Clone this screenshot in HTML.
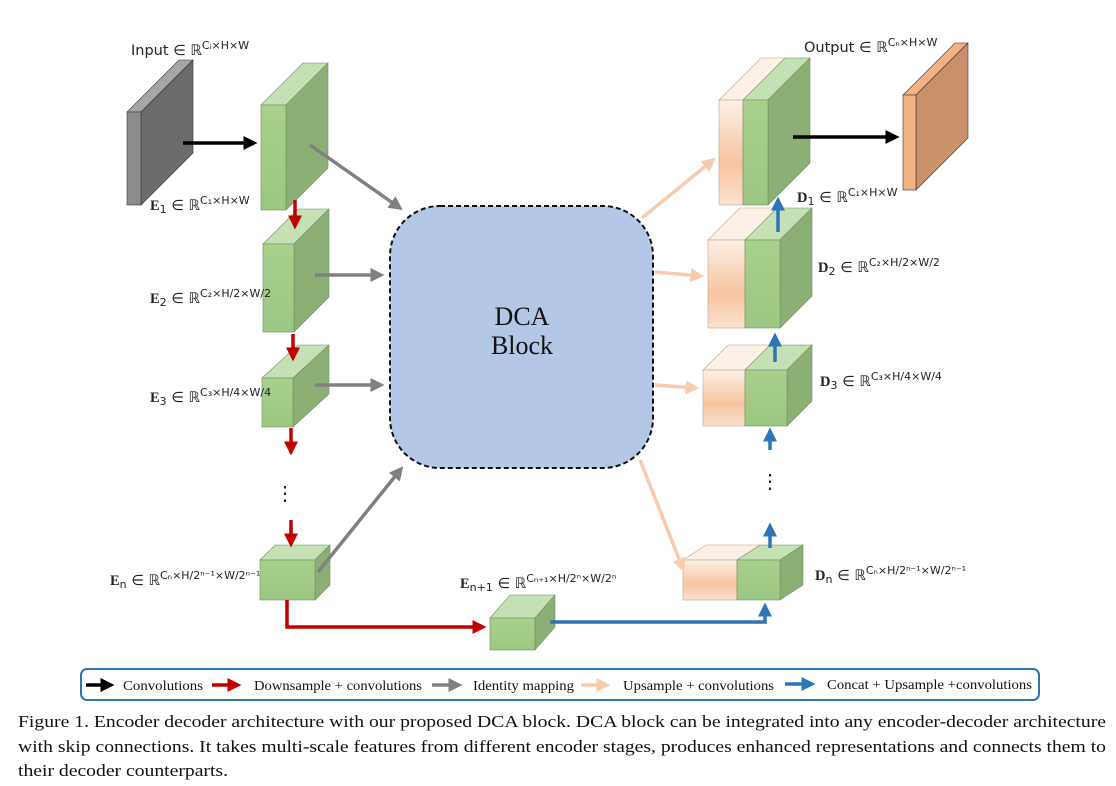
<!DOCTYPE html>
<html><head><meta charset="utf-8"><style>
html,body{margin:0;padding:0;background:#fff;}
svg{display:block;}
text{font-family:"Liberation Serif",serif;}
.m{font-family:"DejaVu Sans","Liberation Sans",sans-serif;font-size:14.5px;fill:#222;}
.s{font-size:11px;}
</style></head><body>
<svg width="1116" height="786" viewBox="0 0 1116 786" xmlns="http://www.w3.org/2000/svg">
<defs>
<linearGradient id="gf" x1="0" y1="0" x2="0" y2="1"><stop offset="0" stop-color="#a8d08d"/><stop offset="1" stop-color="#9cc782"/></linearGradient>
<linearGradient id="pf" x1="0" y1="0" x2="0" y2="1"><stop offset="0" stop-color="#fdf0e6"/><stop offset="0.6" stop-color="#f6c4a0"/><stop offset="1" stop-color="#fbe1cf"/></linearGradient>
<marker id="ak" markerWidth="4" markerHeight="4" refX="3" refY="2" orient="auto"><path d="M0,0L4,2L0,4z" fill="#000"/></marker>
<marker id="ar" markerWidth="4" markerHeight="4" refX="3" refY="2" orient="auto"><path d="M0,0L4,2L0,4z" fill="#c00000"/></marker>
<marker id="ag" markerWidth="4" markerHeight="4" refX="3" refY="2" orient="auto"><path d="M0,0L4,2L0,4z" fill="#808080"/></marker>
<marker id="ap" markerWidth="4" markerHeight="4" refX="3" refY="2" orient="auto"><path d="M0,0L4,2L0,4z" fill="#f8cbad"/></marker>
<marker id="ab" markerWidth="4" markerHeight="4" refX="3" refY="2" orient="auto"><path d="M0,0L4,2L0,4z" fill="#2e75b6"/></marker>
</defs>
<g stroke="#6f8f5a" stroke-width="0.6">
<polygon points="127,112 141,112 193,60 179,60" fill="#a6a6a6" stroke="#333"/>
<polygon points="141,112 193,60 193,153 141,205" fill="#6b6b6b" stroke="#333"/>
<rect x="127" y="112" width="14" height="93" fill="#8c8c8c" stroke="#333"/>
<polygon points="903,95 916,95 968,43 955,43" fill="#f4b183" stroke="#333"/>
<polygon points="916,95 968,43 968,138 916,190" fill="#c9916a" stroke="#333"/>
<rect x="903" y="95" width="13" height="95" fill="#f4b183" stroke="#333"/>
<polygon points="261,105 286,105 328,63 303,63" fill="#c5e0b4"/>
<polygon points="286,105 328,63 328,168 286,210" fill="#8caf76"/>
<rect x="261" y="105" width="25" height="105" fill="url(#gf)"/>
<polygon points="263,244 294,244 329,209 298,209" fill="#c5e0b4"/>
<polygon points="294,244 329,209 329,297 294,332" fill="#8caf76"/>
<rect x="263" y="244" width="31" height="88" fill="url(#gf)"/>
<polygon points="262,378 293,378 329,345 298,345" fill="#c5e0b4"/>
<polygon points="293,378 329,345 329,394 293,427" fill="#8caf76"/>
<rect x="262" y="378" width="31" height="49" fill="url(#gf)"/>
<polygon points="260,560 315,560 330,545 275,545" fill="#c5e0b4"/>
<polygon points="315,560 330,545 330,585 315,600" fill="#8caf76"/>
<rect x="260" y="560" width="55" height="40" fill="url(#gf)"/>
<polygon points="490,618 535,618 555,595 510,595" fill="#c5e0b4"/>
<polygon points="535,618 555,595 555,627 535,650" fill="#8caf76"/>
<rect x="490" y="618" width="45" height="32" fill="url(#gf)"/>
<polygon points="719,100 743,100 785,58 761,58" fill="#fdf0e6" stroke="#b9a58f"/>
<polygon points="743,100 768,100 810,58 785,58" fill="#c5e0b4"/>
<polygon points="768,100 810,58 810,163 768,205" fill="#8caf76"/>
<rect x="719" y="100" width="24" height="105" fill="url(#pf)" stroke="#b9a58f"/>
<rect x="743" y="100" width="25" height="105" fill="url(#gf)"/>
<polygon points="708,240 745,240 777,208 740,208" fill="#fdf0e6" stroke="#b9a58f"/>
<polygon points="745,240 780,240 812,208 777,208" fill="#c5e0b4"/>
<polygon points="780,240 812,208 812,296 780,328" fill="#8caf76"/>
<rect x="708" y="240" width="37" height="88" fill="url(#pf)" stroke="#b9a58f"/>
<rect x="745" y="240" width="35" height="88" fill="url(#gf)"/>
<polygon points="703,370 745,370 770,345 728,345" fill="#fdf0e6" stroke="#b9a58f"/>
<polygon points="745,370 787,370 812,345 770,345" fill="#c5e0b4"/>
<polygon points="787,370 812,345 812,401 787,426" fill="#8caf76"/>
<rect x="703" y="370" width="42" height="56" fill="url(#pf)" stroke="#b9a58f"/>
<rect x="745" y="370" width="42" height="56" fill="url(#gf)"/>
<polygon points="683,560 737,560 760,545 706,545" fill="#fdf0e6" stroke="#b9a58f"/>
<polygon points="737,560 780,560 803,545 760,545" fill="#c5e0b4"/>
<polygon points="780,560 803,545 803,585 780,600" fill="#8caf76"/>
<rect x="683" y="560" width="54" height="40" fill="url(#pf)" stroke="#b9a58f"/>
<rect x="737" y="560" width="43" height="40" fill="url(#gf)"/>
</g>
<rect x="390" y="206" width="263" height="262" rx="50" fill="#b4c7e7" stroke="#111" stroke-width="2" stroke-dasharray="5,3"/>
<text x="522" y="325" font-size="26" text-anchor="middle" fill="#111">DCA</text>
<text x="522" y="354" font-size="26" text-anchor="middle" fill="#111">Block</text>
<g fill="none" stroke-width="3.5">
<line x1="183" y1="143" x2="254" y2="143" stroke="#000" marker-end="url(#ak)"/>
<line x1="793" y1="137" x2="896" y2="137" stroke="#000" marker-end="url(#ak)"/>
<line x1="310" y1="145" x2="400" y2="208" stroke="#808080" marker-end="url(#ag)"/>
<line x1="315" y1="275" x2="381" y2="275" stroke="#808080" marker-end="url(#ag)"/>
<line x1="315" y1="385" x2="381" y2="385" stroke="#808080" marker-end="url(#ag)"/>
<line x1="318" y1="572" x2="401" y2="469" stroke="#808080" marker-end="url(#ag)"/>
<line x1="295" y1="200" x2="295" y2="226" stroke="#c00000" marker-end="url(#ar)"/>
<line x1="293" y1="334" x2="293" y2="358" stroke="#c00000" marker-end="url(#ar)"/>
<line x1="291" y1="428" x2="291" y2="452" stroke="#c00000" marker-end="url(#ar)"/>
<line x1="291" y1="520" x2="291" y2="544" stroke="#c00000" marker-end="url(#ar)"/>
<polyline points="287,600 287,627 483,627" stroke="#c00000" marker-end="url(#ar)"/>
<polyline points="550,622 765,622 765,606" stroke="#2e75b6" marker-end="url(#ab)"/>
<line x1="770" y1="548" x2="770" y2="526" stroke="#2e75b6" marker-end="url(#ab)"/>
<line x1="770" y1="450" x2="770" y2="431" stroke="#2e75b6" marker-end="url(#ab)"/>
<line x1="775" y1="362" x2="775" y2="336" stroke="#2e75b6" marker-end="url(#ab)"/>
<line x1="778" y1="232" x2="778" y2="200" stroke="#2e75b6" marker-end="url(#ab)"/>
<line x1="642" y1="218" x2="713" y2="160" stroke="#f8cbad" marker-end="url(#ap)"/>
<line x1="655" y1="272" x2="701" y2="276" stroke="#f8cbad" marker-end="url(#ap)"/>
<line x1="655" y1="385" x2="696" y2="388" stroke="#f8cbad" marker-end="url(#ap)"/>
<line x1="640" y1="460" x2="683" y2="569" stroke="#f8cbad" marker-end="url(#ap)"/>
</g>
<text x="285" y="500" font-size="20" fill="#222" text-anchor="middle">⋮</text>
<text x="770" y="488" font-size="20" fill="#222" text-anchor="middle">⋮</text>
<text class="m" x="131" y="55">Input ∈ ℝ<tspan class="s" dy="-6">Cᵢ×H×W</tspan></text>
<text class="m" x="150" y="210"><tspan font-weight="bold" font-family="Liberation Serif">E</tspan><tspan class="s" dy="3">1</tspan><tspan dy="-3"> ∈ ℝ</tspan><tspan class="s" dy="-6">C₁×H×W</tspan></text>
<text class="m" x="150" y="303"><tspan font-weight="bold" font-family="Liberation Serif">E</tspan><tspan class="s" dy="3">2</tspan><tspan dy="-3"> ∈ ℝ</tspan><tspan class="s" dy="-6">C₂×H/2×W/2</tspan></text>
<text class="m" x="150" y="402"><tspan font-weight="bold" font-family="Liberation Serif">E</tspan><tspan class="s" dy="3">3</tspan><tspan dy="-3"> ∈ ℝ</tspan><tspan class="s" dy="-6">C₃×H/4×W/4</tspan></text>
<text class="m" x="110" y="585"><tspan font-weight="bold" font-family="Liberation Serif">E</tspan><tspan class="s" dy="3">n</tspan><tspan dy="-3"> ∈ ℝ</tspan><tspan class="s" dy="-6">Cₙ×H/2ⁿ⁻¹×W/2ⁿ⁻¹</tspan></text>
<text class="m" x="460" y="588"><tspan font-weight="bold" font-family="Liberation Serif">E</tspan><tspan class="s" dy="3">n+1</tspan><tspan dy="-3"> ∈ ℝ</tspan><tspan class="s" dy="-6">Cₙ₊₁×H/2ⁿ×W/2ⁿ</tspan></text>
<text class="m" x="804" y="52">Output ∈ ℝ<tspan class="s" dy="-6">Cₙ×H×W</tspan></text>
<text class="m" x="797" y="202"><tspan font-weight="bold" font-family="Liberation Serif">D</tspan><tspan class="s" dy="3">1</tspan><tspan dy="-3"> ∈ ℝ</tspan><tspan class="s" dy="-6">C₁×H×W</tspan></text>
<text class="m" x="818" y="272"><tspan font-weight="bold" font-family="Liberation Serif">D</tspan><tspan class="s" dy="3">2</tspan><tspan dy="-3"> ∈ ℝ</tspan><tspan class="s" dy="-6">C₂×H/2×W/2</tspan></text>
<text class="m" x="820" y="386"><tspan font-weight="bold" font-family="Liberation Serif">D</tspan><tspan class="s" dy="3">3</tspan><tspan dy="-3"> ∈ ℝ</tspan><tspan class="s" dy="-6">C₃×H/4×W/4</tspan></text>
<text class="m" x="815" y="580"><tspan font-weight="bold" font-family="Liberation Serif">D</tspan><tspan class="s" dy="3">n</tspan><tspan dy="-3"> ∈ ℝ</tspan><tspan class="s" dy="-6">Cₙ×H/2ⁿ⁻¹×W/2ⁿ⁻¹</tspan></text>
<rect x="81" y="669" width="958" height="31" rx="6" fill="#fff" stroke="#2e75b6" stroke-width="2"/>
<g stroke-width="3.5">
<line x1="86" y1="685" x2="111" y2="685" stroke="#000" marker-end="url(#ak)"/>
<line x1="212" y1="685" x2="238" y2="685" stroke="#c00000" marker-end="url(#ar)"/>
<line x1="432" y1="685" x2="459" y2="685" stroke="#808080" marker-end="url(#ag)"/>
<line x1="581" y1="685" x2="607" y2="685" stroke="#f8cbad" marker-end="url(#ap)"/>
<line x1="785" y1="684" x2="812" y2="684" stroke="#2e75b6" marker-end="url(#ab)"/>
</g>
<g font-size="14" fill="#111">
<text x="123" y="690" textLength="80" lengthAdjust="spacingAndGlyphs">Convolutions</text>
<text x="254" y="690" textLength="168" lengthAdjust="spacingAndGlyphs">Downsample + convolutions</text>
<text x="473" y="690" textLength="101" lengthAdjust="spacingAndGlyphs">Identity mapping</text>
<text x="623" y="690" textLength="151" lengthAdjust="spacingAndGlyphs">Upsample + convolutions</text>
<text x="827" y="689" textLength="205" lengthAdjust="spacingAndGlyphs">Concat + Upsample +convolutions</text>
</g>
<g font-size="17" fill="#111">
<text x="18" y="727" textLength="1088" lengthAdjust="spacingAndGlyphs">Figure 1. Encoder decoder architecture with our proposed DCA block. DCA block can be integrated into any encoder-decoder architecture</text>
<text x="18" y="752" textLength="1088" lengthAdjust="spacingAndGlyphs">with skip connections. It takes multi-scale features from different encoder stages, produces enhanced representations and connects them to</text>
<text x="18" y="776" textLength="210" lengthAdjust="spacingAndGlyphs">their decoder counterparts.</text>
</g>
</svg>
</body></html>
